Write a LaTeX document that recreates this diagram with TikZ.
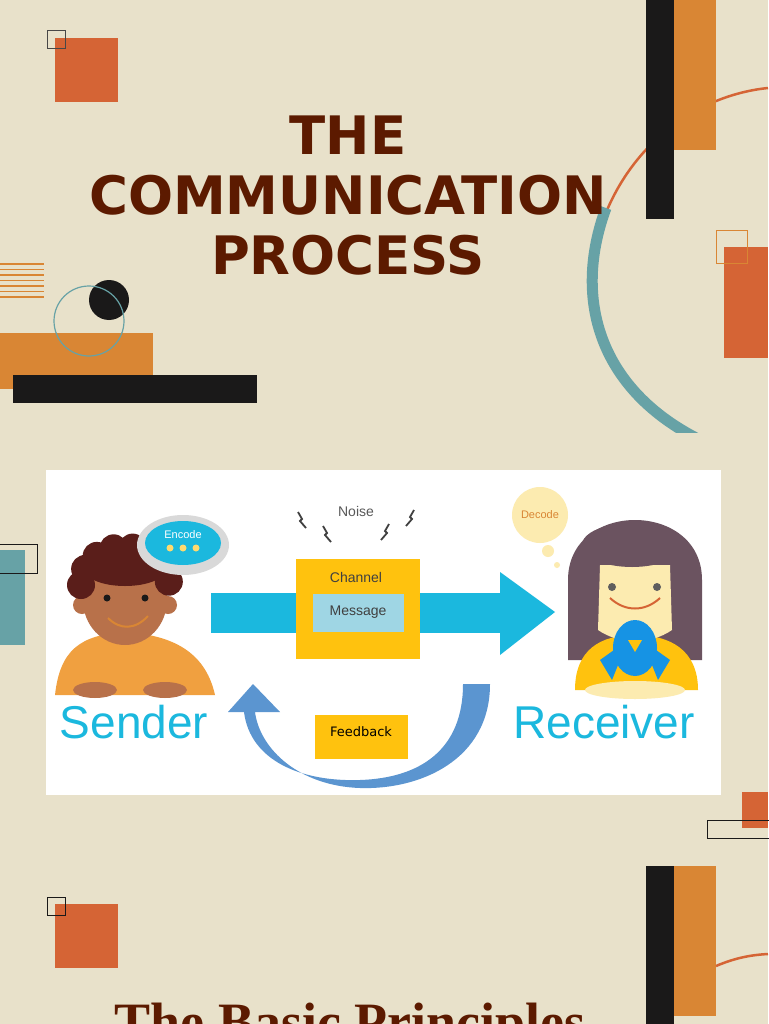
\documentclass[tikz,border=0pt]{standalone}
\usepackage{fontspec}
\setmainfont{DejaVu Sans}
\newfontfamily\labelfont{Liberation Sans}
\newfontfamily\serifbold{Liberation Serif}
\usetikzlibrary{positioning,shapes.geometric}
\definecolor{paper}{HTML}{E8E1CA}
\definecolor{amber}{HTML}{D98634}
\definecolor{rust}{HTML}{D56435}
\definecolor{ink}{HTML}{1A1919}
\definecolor{sea}{HTML}{67A2A6}
\definecolor{maroon}{HTML}{5C1A00}
\definecolor{sky}{HTML}{1BB8DE}
\definecolor{gold}{HTML}{FFC20E}
\definecolor{pale}{HTML}{9FD6E4}
\definecolor{fbblue}{HTML}{5B95D0}
\definecolor{skin}{HTML}{B8714A}
\definecolor{shirt}{HTML}{F0A040}
\definecolor{curls}{HTML}{5A1E1A}
\definecolor{bob}{HTML}{6B5360}
\definecolor{cream}{HTML}{FCEBB0}
\tikzset{
  outline/.style = {draw = #1, line width = 1pt},
  title text/.style = {text = maroon, font = \fontsize{53}{64}\selectfont\bfseries, align = center},
  box text/.style = {font = \labelfont\fontsize{14}{16}\selectfont, text = black!75},
  role text/.style = {font = \labelfont\fontsize{46}{50}\selectfont, text = sky}
}
\begin{document}
\begin{tikzpicture}[x = 1pt, y = -1pt]
    \fill[paper] (0, 0) rectangle (768, 1024);
    \useasboundingbox (0, 0) rectangle (768, 1024);
    % first slide decorations
    \fill[rust] (55, 38) rectangle (118, 102);
    \draw[outline = ink!80] (47, 31) rectangle (65, 49);
    \draw[rust, line width = 2.5pt] (605, 215) .. controls (635, 140) and (700, 95) .. (768, 88);
    \begin{scope}
      \clip (0, 0) rectangle (768, 432);
      \draw[sea, line width = 11pt] (606, 208) .. controls (572, 300) and (600, 390) .. (700, 440);
    \end{scope}
    \fill[amber] (674, 0) rectangle (716, 150);
    \fill[ink] (646, 0) rectangle (674, 219);
    \fill[rust] (724, 247) rectangle (768, 358);
    \draw[outline = amber] (716, 231) rectangle (747, 263);
    \foreach \y in {264, 269.5, ..., 302}
      \draw[amber, line width = 1.6pt] (0, \y) -- (44, \y);
    \fill[amber] (0, 333) rectangle (153, 389);
    \fill[ink] (13, 375) rectangle (257, 403);
    \fill[ink] (109, 300) circle (20);
    \draw[sea, line width = 1.2pt] (89, 321) circle (35);
    \node[title text] (title) at (348, 196) {THE\\[-4pt] COMMUNICATION\\[-4pt] PROCESS};
    % side decorations
    \fill[sea] (0, 550) rectangle (25, 645);
    \draw[outline = ink] (-2, 544) rectangle (37, 573);
    \fill[rust] (742, 792) rectangle (768, 828);
    \draw[outline = ink] (707, 820) rectangle (770, 838);
    % picture
    \fill[white] (46, 470) rectangle (721, 795);
    \fill[sky] (211, 593) rectangle (505, 633);
    \fill[sky] (500, 572) -- (555, 612) -- (500, 655) -- cycle;
    \fill[gold] (296, 559) rectangle (420, 659);
    \fill[pale] (313, 594) rectangle (404, 632);
    \node[box text] (channel) at (356, 577) {Channel};
    \node[box text] (message) at (358, 612) {Message};
    \node[box text, text = black!65] (noise) at (356, 511) {Noise};
    \foreach \x/\y/\s in {302/520/1, 327/534/1, 385/532/-1, 410/518/-1}
      \draw[black!75, line width = 1.8pt] (\x - 4*\s, \y - 8) -- (\x, \y - 1) -- (\x - 2*\s, \y + 1) -- (\x + 4*\s, \y + 8);
    % feedback loop
    \fill[fbblue] (463, 684) -- (490, 684) .. controls (490, 760) and (420, 790) .. (360, 788)
      .. controls (300, 786) and (260, 750) .. (255, 712) -- (280, 712) -- (253, 684) -- (228, 712) -- (244, 712)
      .. controls (250, 760) and (300, 782) .. (360, 780) .. controls (420, 778) and (463, 750) .. cycle;
    \fill[gold] (315, 715) rectangle (408, 759);
    \node[box text, text = black, font = \fontsize{13}{15}\selectfont] (feedback) at (361, 732) {Feedback};
    % sender
    \fill[shirt] (55, 695) .. controls (60, 650) and (80, 635) .. (125, 632) .. controls (170, 635) and (205, 650) .. (215, 695) -- cycle;
    \fill[skin] (125, 600) ellipse (42 and 45);
    \fill[skin] (82, 605) circle (9);
    \fill[skin] (168, 605) circle (9);
    \foreach \a in {0, 25, ..., 180}
      \fill[curls] ({125 + 44*cos(\a + 180)}, {585 + 38*sin(\a + 180)}) circle (14);
    \fill[curls] (125, 570) ellipse (40 and 16);
    \fill[ink] (107, 598) circle (3.5);
    \fill[ink] (145, 598) circle (3.5);
    \draw[amber, line width = 2pt] (108, 618) .. controls (120, 630) and (135, 630) .. (148, 616);
    \fill[skin] (95, 690) ellipse (22 and 8);
    \fill[skin] (165, 690) ellipse (22 and 8);
    \node[role text] (sender) at (134, 722) {Sender};
    \fill[black!15] (183, 545) ellipse (46 and 30);
    \fill[sky] (183, 543) ellipse (38 and 22);
    \node[text = white, font = \labelfont\fontsize{11}{12}\selectfont] (encode) at (183, 535) {Encode};
    \foreach \x in {170, 183, 196}
      \fill[gold!60] (\x, 548) circle (3.5);
    % receiver
    \fill[bob] (568, 660) -- (568, 580) .. controls (568, 500) and (702, 500) .. (702, 580) -- (702, 660) -- cycle;
    \fill[gold] (575, 690) .. controls (575, 650) and (600, 635) .. (635, 635) .. controls (670, 635) and (698, 650) .. (698, 690) -- cycle;
    \fill[cream] (600, 565) -- (670, 565) -- (672, 630) .. controls (650, 645) and (620, 645) .. (598, 630) -- cycle;
    \fill[bob] (632, 545) ellipse (50 and 22);
    \fill[ink!70] (612, 587) circle (4);
    \fill[ink!70] (657, 587) circle (4);
    \draw[rust, line width = 2pt] (610, 598) .. controls (625, 612) and (645, 612) .. (660, 598);
    \fill[cream] (635, 690) ellipse (50 and 9);
    \fill[sky!80!blue] (635, 648) ellipse (22 and 28);
    \fill[sky!80!blue] (612, 680) -- (600, 660) -- (628, 640) -- cycle;
    \fill[sky!80!blue] (658, 680) -- (670, 660) -- (642, 640) -- cycle;
    \fill[gold] (628, 640) -- (642, 640) -- (635, 652) -- cycle;
    \node[role text] (receiver) at (604, 722) {Receiver};
    \fill[cream] (540, 515) circle (28);
    \fill[cream] (548, 551) circle (6);
    \fill[cream] (557, 565) circle (3);
    \node[text = amber, font = \labelfont\fontsize{11}{12}\selectfont] (decode) at (540, 515) {Decode};
    % second slide top
    \fill[rust] (55, 904) rectangle (118, 968);
    \draw[outline = ink] (47, 897) rectangle (65, 915);
    \fill[amber] (674, 866) rectangle (716, 1016);
    \fill[ink] (646, 866) rectangle (674, 1030);
    \draw[rust, line width = 2.5pt] (716, 966) .. controls (735, 958) and (750, 955) .. (768, 954);
    \node[text = maroon, font = \serifbold\bfseries\fontsize{54}{58}\selectfont, anchor = base] (principles) at (350, 1040) {The Basic Principles};
  \end{tikzpicture}
\end{document}
